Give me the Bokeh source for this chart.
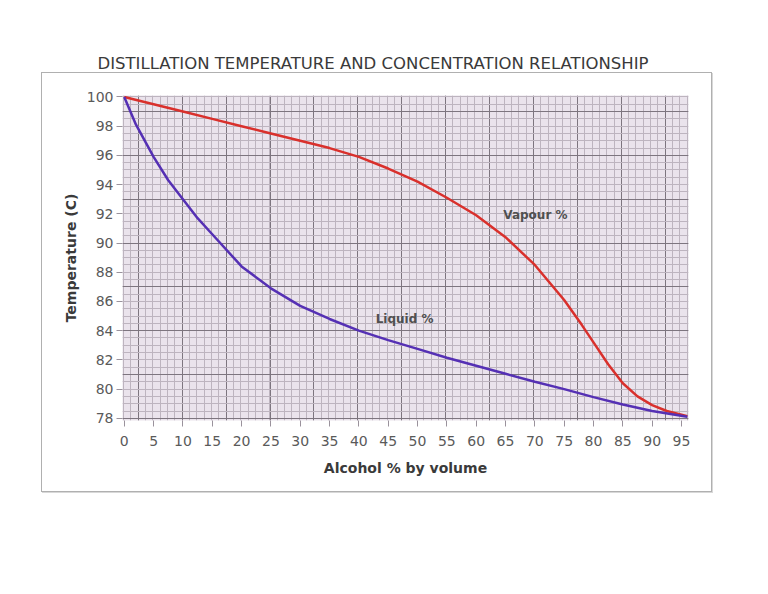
from bokeh.plotting import figure
from bokeh.models import FixedTicker, Label, InlineStyleSheet
from bokeh.embed import file_html
from bokeh.resources import INLINE

# Data
vapour_x = [0, 5, 10, 15, 20, 25, 30, 35, 40, 45, 50, 55, 60, 65, 70, 75, 78, 80, 82.5, 85, 87.5, 90, 92.5, 96]
vapour_y = [100, 99.5, 99.0, 98.5, 98.0, 97.5, 97.0, 96.5, 95.9, 95.1, 94.2, 93.1, 91.9, 90.4, 88.5, 86.1, 84.4, 83.2, 81.7, 80.4, 79.5, 78.9, 78.5, 78.15]
liquid_x = [0, 2, 5, 7.5, 10, 12.5, 15, 20, 25, 30, 35, 40, 45, 50, 55, 60, 65, 70, 75, 80, 85, 90, 96]
liquid_y = [100, 98.1, 95.9, 94.3, 93.0, 91.7, 90.6, 88.4, 86.9, 85.7, 84.8, 84.0, 83.35, 82.75, 82.15, 81.6, 81.05, 80.5, 80.0, 79.45, 78.95, 78.5, 78.1]
x_ticks = list(range(0, 100, 5))
y_ticks = list(range(78, 101, 2))

FONT = "DejaVu Sans"

box_css = InlineStyleSheet(css="""
:host { position: relative; }
:host::after {
  content: ""; position: absolute; left: 41px; top: 72px; width: 669px; height: 418px;
  border: 1px solid #b0b0b0; box-shadow: 1px 1px 0 #d8d8d8; pointer-events: none;
}
""")

p = figure(width=768, height=594, output_backend="svg", toolbar_location=None,
           x_range=(-0.3, 96.2), y_range=(77.85, 100.1),
           min_border_left=122, min_border_right=80, min_border_top=95, min_border_bottom=174,
           stylesheets=[box_css])
p.background_fill_color = "#eae3ec"
p.border_fill_color = "#ffffff"
p.outline_line_color = None

p.title.text = "DISTILLATION TEMPERATURE AND CONCENTRATION RELATIONSHIP"
p.title.align = "left"
p.title.offset = -25
p.title.text_font = FONT
p.title.text_font_size = "16.5px"
p.title.text_font_style = "normal"
p.title.text_color = "#3a3a3a"
p.title.standoff = 45

# graph paper grid
gx_major = [2.38 + 7.49 * k for k in range(13)]
gx_minor = [2.38 + 1.248 * k for k in range(-2, 77)]
gy_major = [78 + 3 * k for k in range(8)]
gy_minor = [78 + 0.5 * k for k in range(-1, 46)]
p.xgrid.ticker = FixedTicker(ticks=gx_major, minor_ticks=gx_minor)
p.ygrid.ticker = FixedTicker(ticks=gy_major, minor_ticks=gy_minor)
for g in (p.xgrid, p.ygrid):
    g.grid_line_color = "#7d757f"
    g.grid_line_width = 1
    g.minor_grid_line_color = "#bdb4bf"
    g.minor_grid_line_width = 1

p.xaxis.ticker = FixedTicker(ticks=x_ticks)
p.yaxis.ticker = FixedTicker(ticks=y_ticks)
for ax in (p.xaxis, p.yaxis):
    ax.axis_line_color = None
    ax.major_tick_line_color = "#9a929c"
    ax.major_tick_out = 6
    ax.major_tick_in = 0
    ax.minor_tick_line_color = None
    ax.major_label_text_font = FONT
    ax.major_label_text_font_size = "14px"
    ax.major_label_text_color = "#5a5a5a"
    ax.axis_label_text_font = FONT
    ax.axis_label_text_font_size = "14px"
    ax.axis_label_text_font_style = "bold"
    ax.axis_label_text_color = "#3a3a3a"
p.xaxis.axis_label = "Alcohol % by volume"
p.yaxis.axis_label = "Temperature (C)"
p.xaxis.major_label_standoff = 9
p.yaxis.major_label_standoff = 3
p.xaxis.axis_label_standoff = 11
p.yaxis.axis_label_standoff = 5

p.line(vapour_x, vapour_y, line_color="#d9302c", line_width=2.5)
p.line(liquid_x, liquid_y, line_color="#5530b4", line_width=2.5)

p.add_layout(Label(x=70.1, y=91.9, text="Vapour %", text_font=FONT,
                   text_font_size="12px", text_font_style="bold", text_color="#505050",
                   text_align="center", text_baseline="middle"))
p.add_layout(Label(x=47.8, y=84.8, text="Liquid %", text_font=FONT,
                   text_font_size="12px", text_font_style="bold", text_color="#505050",
                   text_align="center", text_baseline="middle"))

open("out.html", "w").write(file_html(p, INLINE))
